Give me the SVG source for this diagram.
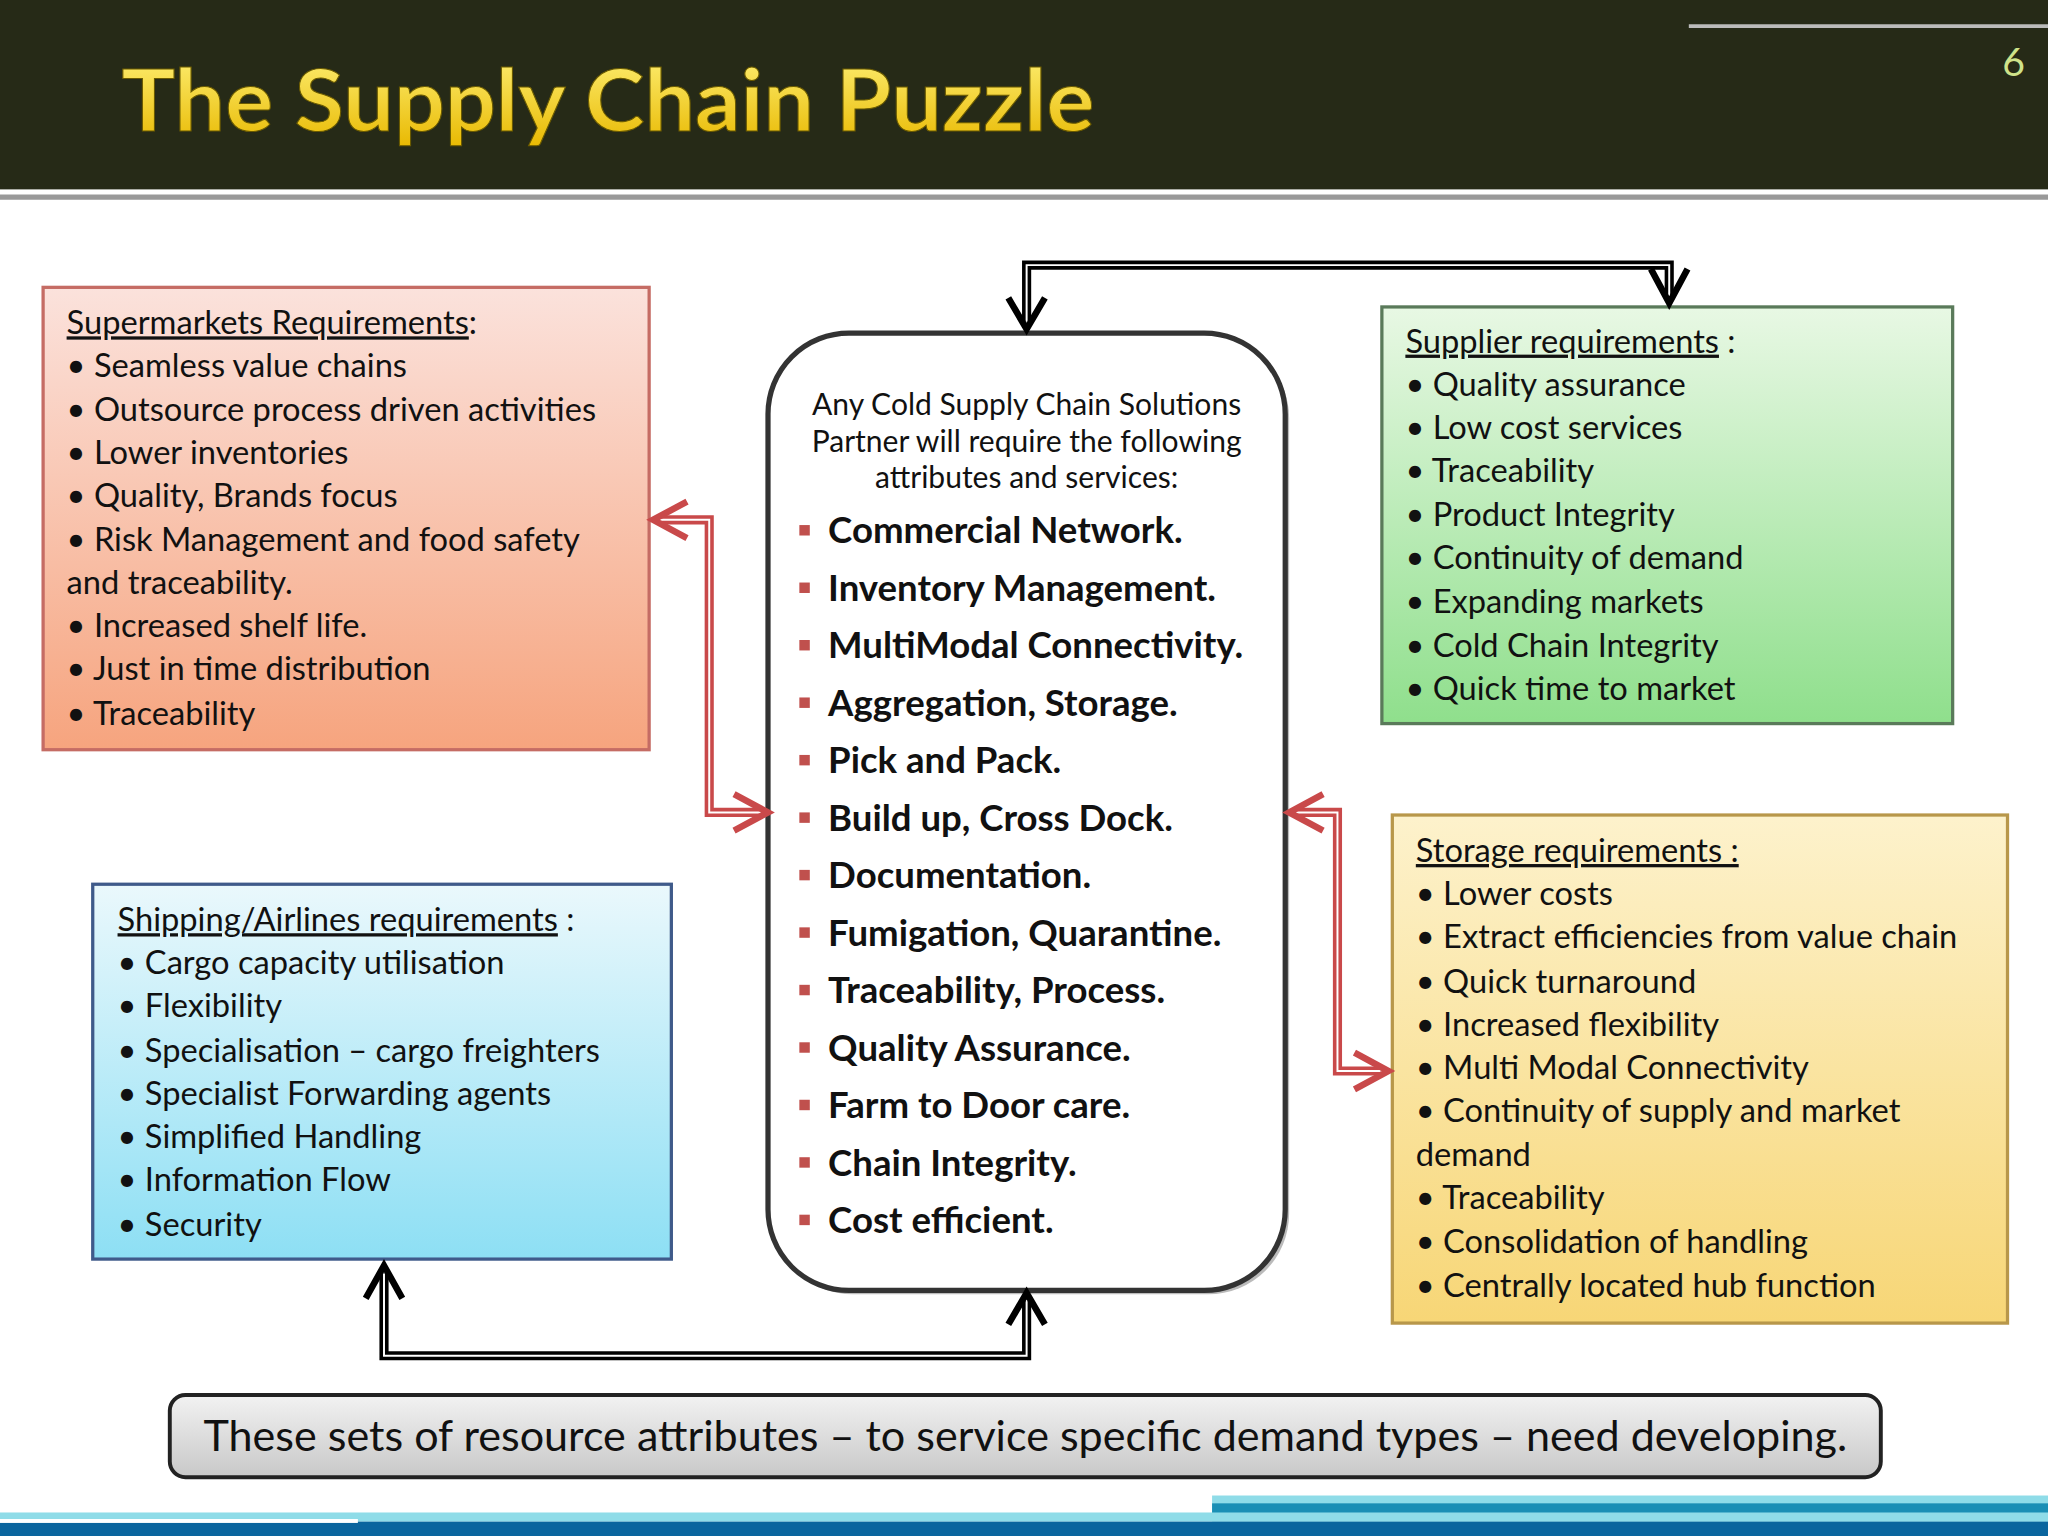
<svg xmlns="http://www.w3.org/2000/svg" width="2048" height="1536" viewBox="0 0 2048 1536">
<defs>
<linearGradient id="gPink" x1="0" y1="0" x2="0" y2="1"><stop offset="0" stop-color="#fbe2dc"/><stop offset="1" stop-color="#f6a47e"/></linearGradient>
<linearGradient id="gGreen" x1="0" y1="0" x2="0" y2="1"><stop offset="0" stop-color="#e8f8e4"/><stop offset="1" stop-color="#8fdf8c"/></linearGradient>
<linearGradient id="gCyan" x1="0" y1="0" x2="0" y2="1"><stop offset="0" stop-color="#eaf8fc"/><stop offset="1" stop-color="#8ddff4"/></linearGradient>
<linearGradient id="gYel" x1="0" y1="0" x2="0" y2="1"><stop offset="0" stop-color="#fdf2cc"/><stop offset="1" stop-color="#f7d676"/></linearGradient>
<linearGradient id="gGray" x1="0" y1="0" x2="0" y2="1"><stop offset="0" stop-color="#f2f2f2"/><stop offset="1" stop-color="#c8c8c8"/></linearGradient>
<linearGradient id="gTitle" x1="0" y1="0" x2="0" y2="1"><stop offset="0" stop-color="#fff27a"/><stop offset="1" stop-color="#e8b800"/></linearGradient>
</defs>
<style>
text{font-family:Lato,"Open Sans","Liberation Sans",sans-serif;fill:#111}
.t{font-size:25px}
.h{text-decoration:underline}
.c{font-size:23px;text-anchor:middle}
.b{font-size:28px;font-weight:bold}
.blk{fill:none;stroke:#000;stroke-width:7}
.wh{fill:none;stroke:#fff;stroke-width:1.5}
.red{fill:none;stroke:#c9494a;stroke-width:7}
.hd{fill:none;stroke-width:5;stroke-linejoin:miter}
</style>
<g transform="scale(1.306122)">
<g id="header">
<rect x="0" y="0" width="1568" height="145" fill="#262a17"/>
<line x1="1293" y1="20" x2="1568" y2="20" stroke="#bbb" stroke-width="3"/>
<line x1="0" y1="151" x2="1568" y2="151" stroke="#999" stroke-width="4"/>
<text x="93" y="100" textLength="745" lengthAdjust="spacingAndGlyphs" style="font-size:66px;font-weight:bold;fill:url(#gTitle);stroke:#6a5a00;stroke-width:0.8">The Supply Chain Puzzle</text>
<text x="1533" y="58" style="font-size:30px;fill:#cfe38a">6</text>
</g>
<g id="supermarkets">
<rect x="33" y="220" width="464" height="354" fill="url(#gPink)" stroke="#c56c64" stroke-width="2.5"/>
<text class="t" x="51"><tspan y="256" class="h">Supermarkets Requirements</tspan><tspan>:</tspan>
<tspan x="51" y="289">• Seamless value chains</tspan>
<tspan x="51" y="322">• Outsource process driven activities</tspan>
<tspan x="51" y="355">• Lower inventories</tspan>
<tspan x="51" y="388">• Quality, Brands focus</tspan>
<tspan x="51" y="422">• Risk Management and food safety</tspan>
<tspan x="51" y="455">and traceability.</tspan>
<tspan x="51" y="488">• Increased shelf life.</tspan>
<tspan x="51" y="521">• Just in time distribution</tspan>
<tspan x="51" y="555">• Traceability</tspan></text>
</g>
<g id="supplier">
<rect x="1058" y="235" width="437" height="319" fill="url(#gGreen)" stroke="#5a7a5a" stroke-width="2.5"/>
<text class="t" x="1076"><tspan y="270" class="h">Supplier requirements</tspan><tspan> :</tspan>
<tspan x="1076" y="303">• Quality assurance</tspan>
<tspan x="1076" y="336">• Low cost services</tspan>
<tspan x="1076" y="369">• Traceability</tspan>
<tspan x="1076" y="403">• Product Integrity</tspan>
<tspan x="1076" y="436">• Continuity of demand</tspan>
<tspan x="1076" y="469">• Expanding markets</tspan>
<tspan x="1076" y="503">• Cold Chain Integrity</tspan>
<tspan x="1076" y="536">• Quick time to market</tspan></text>
</g>
<g id="shipping">
<rect x="71" y="677" width="443" height="287" fill="url(#gCyan)" stroke="#3f5a8a" stroke-width="2.5"/>
<text class="t" x="90"><tspan y="713" class="h">Shipping/Airlines requirements</tspan><tspan> :</tspan>
<tspan x="90" y="746">• Cargo capacity utilisation</tspan>
<tspan x="90" y="779">• Flexibility</tspan>
<tspan x="90" y="813">• Specialisation – cargo freighters</tspan>
<tspan x="90" y="846">• Specialist Forwarding agents</tspan>
<tspan x="90" y="879">• Simplified Handling</tspan>
<tspan x="90" y="912">• Information Flow</tspan>
<tspan x="90" y="946">• Security</tspan></text>
</g>
<g id="storage">
<rect x="1066" y="624" width="471" height="389" fill="url(#gYel)" stroke="#b8974a" stroke-width="2.5"/>
<text class="t" x="1084"><tspan y="660" class="h">Storage requirements :</tspan>
<tspan x="1084" y="693">• Lower costs</tspan>
<tspan x="1084" y="726">• Extract efficiencies from value chain</tspan>
<tspan x="1084" y="760">• Quick turnaround</tspan>
<tspan x="1084" y="793">• Increased flexibility</tspan>
<tspan x="1084" y="826">• Multi Modal Connectivity</tspan>
<tspan x="1084" y="859">• Continuity of supply and market</tspan>
<tspan x="1084" y="893">demand</tspan>
<tspan x="1084" y="926">• Traceability</tspan>
<tspan x="1084" y="959">• Consolidation of handling</tspan>
<tspan x="1084" y="993">• Centrally located hub function</tspan></text>
</g>
<g id="center">
<rect x="591" y="258" width="396" height="733" rx="62" fill="#bbb"/>
<rect x="588" y="255" width="396" height="733" rx="62" fill="#fff" stroke="#333" stroke-width="4"/>
<text class="c" x="786"><tspan y="318">Any Cold Supply Chain Solutions</tspan><tspan x="786" y="346">Partner will require the following</tspan><tspan x="786" y="374">attributes and services:</tspan></text>
<g fill="#c0504d">
<rect x="612" y="402" width="8" height="8"/><rect x="612" y="446" width="8" height="8"/><rect x="612" y="490" width="8" height="8"/><rect x="612" y="534" width="8" height="8"/><rect x="612" y="578" width="8" height="8"/><rect x="612" y="622" width="8" height="8"/><rect x="612" y="666" width="8" height="8"/><rect x="612" y="710" width="8" height="8"/><rect x="612" y="754" width="8" height="8"/><rect x="612" y="798" width="8" height="8"/><rect x="612" y="842" width="8" height="8"/><rect x="612" y="886" width="8" height="8"/><rect x="612" y="930" width="8" height="8"/>
</g>
<text class="b" x="634"><tspan y="416">Commercial Network.</tspan><tspan x="634" y="460">Inventory Management.</tspan><tspan x="634" y="504">MultiModal Connectivity.</tspan><tspan x="634" y="548">Aggregation, Storage.</tspan><tspan x="634" y="592">Pick and Pack.</tspan><tspan x="634" y="636">Build up, Cross Dock.</tspan><tspan x="634" y="680">Documentation.</tspan><tspan x="634" y="724">Fumigation, Quarantine.</tspan><tspan x="634" y="768">Traceability, Process.</tspan><tspan x="634" y="812">Quality Assurance.</tspan><tspan x="634" y="856">Farm to Door care.</tspan><tspan x="634" y="900">Chain Integrity.</tspan><tspan x="634" y="944">Cost efficient.</tspan></text>
</g>
<g id="connectors">
<path class="blk" d="M786,246 V203 H1278 V228"/>
<path class="wh" d="M786,246 V203 H1278 V228"/>
<path class="hd" stroke="#000" d="M772,228 L786,252 L800,228 M1264,206 L1278,232 L1292,206"/>
<path class="blk" d="M294,975 V1038 H786 V996"/>
<path class="wh" d="M294,975 V1038 H786 V996"/>
<path class="hd" stroke="#000" d="M280,994 L294,969 L308,994 M772,1014 L786,990 L800,1014"/>
<path class="red" d="M506,398 H543 V622 H582"/>
<path class="wh" d="M506,398 H543 V622 H582"/>
<path class="hd" stroke="#c9494a" d="M526,384 L500,398 L526,412 M562,608 L588,622 L562,636"/>
<path class="red" d="M993,622 H1024 V820 H1057"/>
<path class="wh" d="M993,622 H1024 V820 H1057"/>
<path class="hd" stroke="#c9494a" d="M1013,608 L987,622 L1013,636 M1037,806 L1063,820 L1037,834"/>
</g>
<g id="caption">
<rect x="130" y="1068" width="1310" height="63" rx="12" fill="url(#gGray)" stroke="#222" stroke-width="3"/>
<text x="785" y="1111" style="font-size:33px;text-anchor:middle">These sets of resource attributes – to service specific demand types – need developing.</text>
</g>
<g id="footer">
<rect x="928" y="1145" width="640" height="20" fill="#8fdce8"/>
<rect x="928" y="1151" width="640" height="11" fill="#1a8fb5"/>
<rect x="0" y="1158" width="1568" height="7" fill="#8fdce8"/>
<rect x="0" y="1165" width="1568" height="11" fill="#0a659e"/>
<rect x="0" y="1163" width="274" height="3" fill="#fff"/>
</g>
</g>
</svg>
